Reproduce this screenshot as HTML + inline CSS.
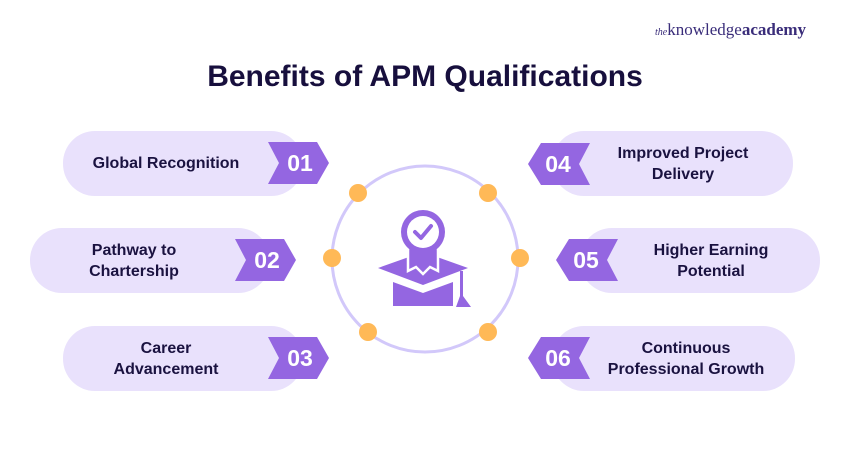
<!DOCTYPE html>
<html><head><meta charset="utf-8"><style>
body{margin:0;background:#fff}
svg{display:block}
text{font-family:"Liberation Sans",sans-serif;font-weight:bold;fill:#1a1240}
.n{fill:#fff;font-size:23px}
.l{font-size:16px}
</style></head><body>
<svg width="850" height="450" viewBox="0 0 850 450">
<text x="655" y="35" style="font-family:'Liberation Serif',serif;font-weight:normal;font-size:17px;fill:#3a2d7a"><tspan font-size="10" font-style="italic">the</tspan>knowledge<tspan font-weight="bold">academy</tspan></text>
<text x="425" y="86" text-anchor="middle" style="font-size:30px;fill:#170f3d">Benefits of APM Qualifications</text>

<circle cx="425" cy="259" r="93" fill="none" stroke="#d2c8fa" stroke-width="3"/>
<g fill="#ffb957">
<circle cx="358" cy="193" r="9"/><circle cx="488" cy="193" r="9"/>
<circle cx="332" cy="258" r="9"/><circle cx="520" cy="258" r="9"/>
<circle cx="368" cy="332" r="9"/><circle cx="488" cy="332" r="9"/>
</g>
<!-- icon -->
<g fill="#9466e1">
<path d="M378 268 L423 252 L468 268 L423 285 Z"/>
<path d="M393 282 L423 293 L453 282 L453 306 L393 306 Z"/>
<path d="M460 271 L463 271 L463 296 L471 307 L456 307 L460 296 Z"/>
</g>
<path d="M408 248 L408 271 L416 267 L423 274 L430 267 L438 271 L438 248 Z" fill="#9466e1" stroke="#fff" stroke-width="2.5"/>
<circle cx="423" cy="232" r="22" fill="#9466e1"/>
<circle cx="423" cy="232" r="16" fill="#fff"/>
<path d="M415 232 L421 238 L431 226" fill="none" stroke="#9466e1" stroke-width="4" stroke-linecap="round" stroke-linejoin="round"/>

<g fill="#e9e1fc">
<rect x="63" y="131" width="240" height="65" rx="32"/>
<rect x="30" y="228" width="240" height="65" rx="32"/>
<rect x="63" y="326" width="240" height="65" rx="32"/>
<rect x="552" y="131" width="241" height="65" rx="32"/>
<rect x="580" y="228" width="240" height="65" rx="32"/>
<rect x="552" y="326" width="243" height="65" rx="32"/>
</g>
<g fill="#9466e1">
<path d="M268 142 L317 142 L329 163 L317 184 L268 184 L279 163 Z"/>
<path d="M235 239 L284 239 L296 260 L284 281 L235 281 L246 260 Z"/>
<path d="M268 337 L317 337 L329 358 L317 379 L268 379 L279 358 Z"/>
<path d="M590 143 L541 143 L528 164 L541 185 L590 185 L579 164 Z"/>
<path d="M618 239 L569 239 L556 260 L569 281 L618 281 L607 260 Z"/>
<path d="M590 337 L541 337 L528 358 L541 379 L590 379 L579 358 Z"/>
</g>
<text class="n" x="300" y="171" text-anchor="middle">01</text>
<text class="n" x="267" y="268" text-anchor="middle">02</text>
<text class="n" x="300" y="366" text-anchor="middle">03</text>
<text class="n" x="558" y="172" text-anchor="middle">04</text>
<text class="n" x="586" y="268" text-anchor="middle">05</text>
<text class="n" x="558" y="366" text-anchor="middle">06</text>
<g text-anchor="middle">
<text class="l" x="166" y="168">Global Recognition</text>
<text class="l" x="134" y="255">Pathway to</text>
<text class="l" x="134" y="276">Chartership</text>
<text class="l" x="166" y="353">Career</text>
<text class="l" x="166" y="374">Advancement</text>
<text class="l" x="683" y="158">Improved Project</text>
<text class="l" x="683" y="179">Delivery</text>
<text class="l" x="711" y="255">Higher Earning</text>
<text class="l" x="711" y="276">Potential</text>
<text class="l" x="686" y="353">Continuous</text>
<text class="l" x="686" y="374">Professional Growth</text>
</g>
</svg>
</body></html>
